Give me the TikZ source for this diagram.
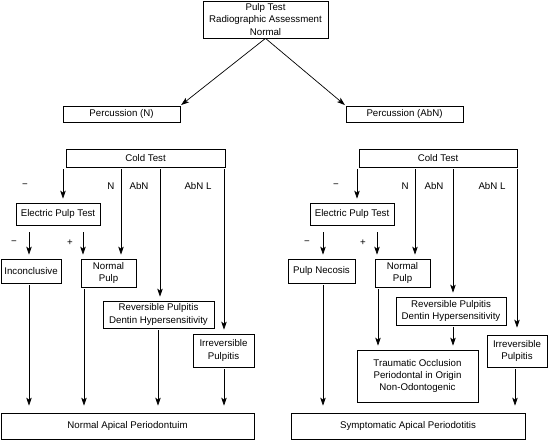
\documentclass[tikz,border=0pt]{standalone}
\usepackage{fontspec}
\setmainfont{Liberation Sans}
\usetikzlibrary{arrows.meta}
\newlength{\FlowTipGap}
\setlength{\FlowTipGap}{4pt}
\tikzset{/flow/box/.style={
	shape=rectangle, draw, align=center, inner sep=1pt, line width=0.7pt, font=\fontsize{9.7}{12.4}\selectfont
}}
\tikzset{/flow/arrow/.style={
	line width=0.7pt, -{Stealth[length=8pt, width=5.5pt, inset=2pt]}, shorten <=2pt, shorten >=\FlowTipGap
}}
\tikzset{/flow/label/.style={
	inner sep=0pt, font=\fontsize{9.7}{12.4}\selectfont
}}

\begin{document}
\begin{tikzpicture}[x=1pt, y=-1pt]
			\useasboundingbox (0,0) rectangle (548,440);
			\path (265.5,19.5) node[/flow/box, minimum width=125pt, minimum height=37pt] (top) {Pulp Test\\Radiographic Assessment\\Normal};
			\path (121.5,114) node[/flow/box, minimum width=117pt, minimum height=16pt] (percN) {Percussion (N)};
			\path (404.5,114) node[/flow/box, minimum width=117pt, minimum height=16pt] (percA) {Percussion (AbN)};
			\draw[/flow/arrow, shorten <=0pt, shorten >=1pt] (top.south) -- (percN.north east);
			\draw[/flow/arrow, shorten <=0pt, shorten >=1pt] (top.south) -- (percA.north west);
			% left branch
			\path (145.5,158) node[/flow/box, minimum width=159pt, minimum height=18pt] (coldL) {Cold Test};
			\path (58,214) node[/flow/box, minimum width=84pt, minimum height=22pt] (eptL) {Electric Pulp Test};
			\path (31,271) node[/flow/box, minimum width=60pt, minimum height=24pt] (incL) {Inconclusive};
			\path (108.5,273) node[/flow/box, minimum width=55pt, minimum height=28pt] (normL) {Normal\\Pulp};
			\path (158.5,314.5) node[/flow/box, minimum width=111pt, minimum height=27pt] (revL) {Reversible Pulpitis\\Dentin Hypersensitivity};
			\path (223.5,350.5) node[/flow/box, minimum width=61pt, minimum height=33pt] (irrL) {Irreversible\\Pulpitis};
			\path (127.5,426) node[/flow/box, minimum width=253pt, minimum height=26pt] (apexL) {Normal Apical Periodontuim};
			\path (25,186) node[/flow/label] (coldNegL) {−};
			\path (111,186) node[/flow/label] (coldNL) {N};
			\path (139,186) node[/flow/label] (coldAbNL) {AbN};
			\path (198,186) node[/flow/label] (coldAbNLL) {AbN L};
			\path (14,243) node[/flow/label] (eptNegL) {−};
			\path (70,243) node[/flow/label] (eptPosL) {+};
			\draw[/flow/arrow] (63,0 |- coldL.south) -- (63,0 |- eptL.north);
			\draw[/flow/arrow] (121,0 |- coldL.south) -- (121,0 |- normL.north);
			\draw[/flow/arrow] (160,0 |- coldL.south) -- (160,0 |- revL.north);
			\draw[/flow/arrow] (224,0 |- coldL.south) -- (224,0 |- irrL.north);
			\draw[/flow/arrow, shorten <=7pt] (29,0 |- eptL.south) -- (29,0 |- incL.north);
			\draw[/flow/arrow, shorten <=7pt] (83,0 |- eptL.south) -- (83,0 |- normL.north);
			\draw[/flow/arrow, shorten >=7pt] (29,0 |- incL.south) -- (29,0 |- apexL.north);
			\draw[/flow/arrow, shorten >=7pt] (84,0 |- normL.south) -- (84,0 |- apexL.north);
			\draw[/flow/arrow, shorten >=7pt] (158,0 |- revL.south) -- (158,0 |- apexL.north);
			\draw[/flow/arrow, shorten >=7pt] (224,0 |- irrL.south) -- (224,0 |- apexL.north);
			% right branch
			\path (438,158) node[/flow/box, minimum width=158pt, minimum height=18pt] (coldR) {Cold Test};
			\path (352,214) node[/flow/box, minimum width=84pt, minimum height=22pt] (eptR) {Electric Pulp Test};
			\path (321.5,271) node[/flow/box, minimum width=67pt, minimum height=24pt] (necR) {Pulp Necosis};
			\path (402.5,273) node[/flow/box, minimum width=55pt, minimum height=28pt] (normR) {Normal\\Pulp};
			\path (451,311) node[/flow/box, minimum width=110pt, minimum height=28pt] (revR) {Reversible Pulpitis\\Dentin Hypersensitivity};
			\path (517,351) node[/flow/box, minimum width=60pt, minimum height=32pt] (irrR) {Irreversible\\Pulpitis};
			\path (417.5,376) node[/flow/box, minimum width=121pt, minimum height=52pt] (traumR) {Traumatic Occlusion\\Periodontal in Origin\\Non-Odontogenic};
			\path (408,426) node[/flow/box, minimum width=234pt, minimum height=26pt] (apexR) {Symptomatic Apical Periodotitis};
			\path (336,186) node[/flow/label] (coldNegR) {−};
			\path (405,186) node[/flow/label] (coldNR) {N};
			\path (434,186) node[/flow/label] (coldAbNR) {AbN};
			\path (492,186) node[/flow/label] (coldAbNLR) {AbN L};
			\path (307,243) node[/flow/label] (eptNegR) {−};
			\path (363,243) node[/flow/label] (eptPosR) {+};
			\draw[/flow/arrow] (357,0 |- coldR.south) -- (357,0 |- eptR.north);
			\draw[/flow/arrow] (415,0 |- coldR.south) -- (415,0 |- normR.north);
			\draw[/flow/arrow] (453,0 |- coldR.south) -- (453,0 |- revR.north);
			\draw[/flow/arrow, shorten >=7pt] (517,0 |- coldR.south) -- (517,0 |- irrR.north);
			\draw[/flow/arrow, shorten <=7pt] (323,0 |- eptR.south) -- (323,0 |- necR.north);
			\draw[/flow/arrow, shorten <=7pt] (377,0 |- eptR.south) -- (377,0 |- normR.north);
			\draw[/flow/arrow] (378,0 |- normR.south) -- (378,0 |- traumR.north);
			\draw[/flow/arrow] (453,0 |- revR.south) -- (453,0 |- traumR.north);
			\draw[/flow/arrow, shorten >=7pt] (323,0 |- necR.south) -- (323,0 |- apexR.north);
			\draw[/flow/arrow, shorten >=7pt] (515,0 |- irrR.south) -- (515,0 |- apexR.north);
		\end{tikzpicture}
\end{document}
